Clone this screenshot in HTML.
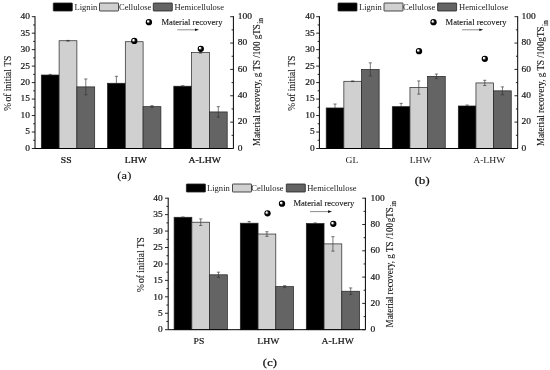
<!DOCTYPE html>
<html><head><meta charset="utf-8"><title>Figure</title>
<style>html,body{margin:0;padding:0;background:#fff;overflow:hidden}svg{display:block;filter:blur(0.35px)}</style></head>
<body><svg width="550" height="370" viewBox="0 0 550 370" font-family='"Liberation Serif", serif' fill="#111">
<defs><radialGradient id="sp" cx="0.5" cy="0.5" r="0.5" fx="0.3" fy="0.32"><stop offset="0" stop-color="#fff"/><stop offset="0.2" stop-color="#fff"/><stop offset="0.46" stop-color="#444"/><stop offset="0.62" stop-color="#000"/><stop offset="1" stop-color="#000"/></radialGradient></defs>
<style>.t{stroke:#111;stroke-width:0.18px}.g{fill:#1a1a1a}.h{fill:#111;stroke:#111;stroke-width:0.1px}.b{stroke:#111;stroke-width:0.24px}</style>
<rect width="550" height="370" fill="#fff"/>
<rect x="41.30" y="75.02" width="17.80" height="73.48" fill="#000" stroke="#222" stroke-width="0.7"/>
<path d="M50.20 74.36V75.02M48.60 74.36H51.80" stroke="#333" stroke-width="0.65" fill="none"/>
<rect x="59.10" y="40.75" width="17.80" height="107.75" fill="#d0d0d0" stroke="#222" stroke-width="0.7"/>
<path d="M68.00 40.42V41.08M66.40 40.42H69.60M66.40 41.08H69.60" stroke="#333" stroke-width="0.65" fill="none"/>
<rect x="76.90" y="86.88" width="17.80" height="61.62" fill="#646464" stroke="#222" stroke-width="0.7"/>
<path d="M85.80 78.98V94.79M84.20 78.98H87.40M84.20 94.79H87.40" stroke="#333" stroke-width="0.65" fill="none"/>
<rect x="107.50" y="83.26" width="17.80" height="65.24" fill="#000" stroke="#222" stroke-width="0.7"/>
<path d="M116.40 76.34V83.26M114.80 76.34H118.00" stroke="#333" stroke-width="0.65" fill="none"/>
<rect x="125.30" y="41.74" width="17.80" height="106.76" fill="#d0d0d0" stroke="#222" stroke-width="0.7"/>
<path d="M134.20 41.41V42.07M132.60 41.41H135.80M132.60 42.07H135.80" stroke="#333" stroke-width="0.65" fill="none"/>
<rect x="143.10" y="106.65" width="17.80" height="41.85" fill="#646464" stroke="#222" stroke-width="0.7"/>
<path d="M152.00 105.66V107.64M150.40 105.66H153.60M150.40 107.64H153.60" stroke="#333" stroke-width="0.65" fill="none"/>
<rect x="173.80" y="86.22" width="17.80" height="62.28" fill="#000" stroke="#222" stroke-width="0.7"/>
<path d="M182.70 85.73V86.22M181.10 85.73H184.30" stroke="#333" stroke-width="0.65" fill="none"/>
<rect x="191.60" y="52.62" width="17.80" height="95.88" fill="#d0d0d0" stroke="#222" stroke-width="0.7"/>
<path d="M200.50 52.12V53.11M198.90 52.12H202.10M198.90 53.11H202.10" stroke="#333" stroke-width="0.65" fill="none"/>
<rect x="209.40" y="111.93" width="17.80" height="36.57" fill="#646464" stroke="#222" stroke-width="0.7"/>
<path d="M218.30 106.65V117.20M216.70 106.65H219.90M216.70 117.20H219.90" stroke="#333" stroke-width="0.65" fill="none"/>
<path d="M35 16.2V148.5H233.4V16.2" stroke="#000" stroke-width="1.0" fill="none"/>
<text class="t" transform="translate(30.00 150.90) scale(1.075 1)" font-size="8.8" text-anchor="end">0</text>
<text class="t" transform="translate(30.00 134.43) scale(1.075 1)" font-size="8.8" text-anchor="end">5</text>
<text class="t" transform="translate(30.00 117.95) scale(1.075 1)" font-size="8.8" text-anchor="end">10</text>
<text class="t" transform="translate(30.00 101.47) scale(1.075 1)" font-size="8.8" text-anchor="end">15</text>
<text class="t" transform="translate(30.00 85.00) scale(1.075 1)" font-size="8.8" text-anchor="end">20</text>
<text class="t" transform="translate(30.00 68.52) scale(1.075 1)" font-size="8.8" text-anchor="end">25</text>
<text class="t" transform="translate(30.00 52.05) scale(1.075 1)" font-size="8.8" text-anchor="end">30</text>
<text class="t" transform="translate(30.00 35.57) scale(1.075 1)" font-size="8.8" text-anchor="end">35</text>
<text class="t" transform="translate(30.00 19.10) scale(1.075 1)" font-size="8.8" text-anchor="end">40</text>
<text class="t" transform="translate(237.80 150.80) scale(1.075 1)" font-size="8.8">0</text>
<text class="t" transform="translate(237.80 124.44) scale(1.075 1)" font-size="8.8">20</text>
<text class="t" transform="translate(237.80 98.08) scale(1.075 1)" font-size="8.8">40</text>
<text class="t" transform="translate(237.80 71.72) scale(1.075 1)" font-size="8.8">60</text>
<text class="t" transform="translate(237.80 45.36) scale(1.075 1)" font-size="8.8">80</text>
<text class="t" transform="translate(237.80 19.00) scale(1.075 1)" font-size="8.8">100</text>
<path d="M31.8 148.50H35M31.8 132.03H35M31.8 115.55H35M31.8 99.07H35M31.8 82.60H35M31.8 66.12H35M31.8 49.65H35M31.8 33.17H35M31.8 16.70H35M33.2 140.26H35M33.2 123.79H35M33.2 107.31H35M33.2 90.84H35M33.2 74.36H35M33.2 57.89H35M33.2 41.41H35M33.2 24.94H35M230.20000000000002 148.50H233.4M231.6 135.32H233.4M230.20000000000002 122.14H233.4M231.6 108.96H233.4M230.20000000000002 95.78H233.4M231.6 82.60H233.4M230.20000000000002 69.42H233.4M231.6 56.24H233.4M230.20000000000002 43.06H233.4M231.6 29.88H233.4M230.20000000000002 16.70H233.4" stroke="#111" stroke-width="0.9" fill="none"/>
<text class="b" transform="translate(66.20 162.80) scale(1.1 1)" font-size="8.8" text-anchor="middle">SS</text>
<text class="b" transform="translate(135.80 162.80) scale(1.1 1)" font-size="8.8" text-anchor="middle">LHW</text>
<text class="b" transform="translate(204.70 162.80) scale(1.1 1)" font-size="8.8" text-anchor="middle">A-LHW</text>
<text class="h" transform="translate(124.40 178.90) scale(1.17 1)" font-size="10.6" text-anchor="middle" letter-spacing="0.2">(a)</text>
<text class="h" transform="translate(10.60 83.20) rotate(-90) scale(0.935 1)" font-size="10.2" text-anchor="middle">%<tspan dx="-1.4"> </tspan>of initial TS</text>
<text class="h" transform="translate(259.80 82.10) rotate(-90) scale(0.892 1)" font-size="10.2" text-anchor="middle">Material recovery, g TS /100<tspan dx="0"> </tspan>gTS<tspan font-size="8.2" dy="3.6" dx="0.4">in</tspan></text>
<rect x="53.3" y="3" width="19" height="8" rx="0.4" fill="#000" stroke="#222" stroke-width="0.8"/>
<text class="g" transform="translate(74.50 10.20) scale(1.075 1)" font-size="7.95">Lignin</text>
<rect x="99.5" y="3" width="19" height="8" rx="0.4" fill="#d0d0d0" stroke="#222" stroke-width="0.8"/>
<text class="g" transform="translate(119.00 10.20) scale(1.075 1)" font-size="7.95">Cellulose</text>
<rect x="153.3" y="3" width="19" height="8" rx="0.4" fill="#646464" stroke="#222" stroke-width="0.8"/>
<text class="g" transform="translate(174.60 10.20) scale(1.075 1)" font-size="7.95">Hemicellulose</text>
<circle cx="148.9" cy="22.2" r="3.15" fill="url(#sp)"/>
<text class="h" transform="translate(161.50 24.60) scale(1.075 1)" font-size="7.95">Material recovery</text>
<path d="M177.3 29.8H196" stroke="#8c8c8c" stroke-width="1" fill="none"/><path d="M199 29.8L195 28.5V31.1Z" fill="#111"/>
<circle cx="134.3" cy="40.900000000000006" r="3.15" fill="url(#sp)"/>
<circle cx="200.8" cy="48.800000000000004" r="3.15" fill="url(#sp)"/>
<rect x="326.20" y="107.97" width="17.65" height="40.53" fill="#000" stroke="#222" stroke-width="0.7"/>
<path d="M335.02 104.02V107.97M333.42 104.02H336.62" stroke="#333" stroke-width="0.65" fill="none"/>
<rect x="343.85" y="81.28" width="17.65" height="67.22" fill="#d0d0d0" stroke="#222" stroke-width="0.7"/>
<path d="M352.67 80.95V81.61M351.07 80.95H354.27M351.07 81.61H354.27" stroke="#333" stroke-width="0.65" fill="none"/>
<rect x="361.50" y="69.42" width="17.65" height="79.08" fill="#646464" stroke="#222" stroke-width="0.7"/>
<path d="M370.32 62.83V76.01M368.72 62.83H371.93M368.72 76.01H371.93" stroke="#333" stroke-width="0.65" fill="none"/>
<rect x="392.30" y="106.65" width="17.65" height="41.85" fill="#000" stroke="#222" stroke-width="0.7"/>
<path d="M401.12 103.36V106.65M399.52 103.36H402.73" stroke="#333" stroke-width="0.65" fill="none"/>
<rect x="409.95" y="87.54" width="17.65" height="60.96" fill="#d0d0d0" stroke="#222" stroke-width="0.7"/>
<path d="M418.77 80.95V94.13M417.17 80.95H420.38M417.17 94.13H420.38" stroke="#333" stroke-width="0.65" fill="none"/>
<rect x="427.60" y="76.34" width="17.65" height="72.16" fill="#646464" stroke="#222" stroke-width="0.7"/>
<path d="M436.43 74.03V78.65M434.82 74.03H438.03M434.82 78.65H438.03" stroke="#333" stroke-width="0.65" fill="none"/>
<rect x="458.30" y="105.99" width="17.65" height="42.51" fill="#000" stroke="#222" stroke-width="0.7"/>
<path d="M467.12 105.01V105.99M465.52 105.01H468.73" stroke="#333" stroke-width="0.65" fill="none"/>
<rect x="475.95" y="82.93" width="17.65" height="65.57" fill="#d0d0d0" stroke="#222" stroke-width="0.7"/>
<path d="M484.77 80.29V85.57M483.17 80.29H486.38M483.17 85.57H486.38" stroke="#333" stroke-width="0.65" fill="none"/>
<rect x="493.60" y="90.84" width="17.65" height="57.66" fill="#646464" stroke="#222" stroke-width="0.7"/>
<path d="M502.43 86.88V94.79M500.82 86.88H504.03M500.82 94.79H504.03" stroke="#333" stroke-width="0.65" fill="none"/>
<path d="M319.4 16.2V148.5H517.7V16.2" stroke="#000" stroke-width="1.0" fill="none"/>
<text class="t" transform="translate(314.80 150.90) scale(1.075 1)" font-size="8.8" text-anchor="end">0</text>
<text class="t" transform="translate(314.80 134.43) scale(1.075 1)" font-size="8.8" text-anchor="end">5</text>
<text class="t" transform="translate(314.80 117.95) scale(1.075 1)" font-size="8.8" text-anchor="end">10</text>
<text class="t" transform="translate(314.80 101.47) scale(1.075 1)" font-size="8.8" text-anchor="end">15</text>
<text class="t" transform="translate(314.80 85.00) scale(1.075 1)" font-size="8.8" text-anchor="end">20</text>
<text class="t" transform="translate(314.80 68.52) scale(1.075 1)" font-size="8.8" text-anchor="end">25</text>
<text class="t" transform="translate(314.80 52.05) scale(1.075 1)" font-size="8.8" text-anchor="end">30</text>
<text class="t" transform="translate(314.80 35.57) scale(1.075 1)" font-size="8.8" text-anchor="end">35</text>
<text class="t" transform="translate(314.80 19.10) scale(1.075 1)" font-size="8.8" text-anchor="end">40</text>
<text class="t" transform="translate(521.60 150.80) scale(1.075 1)" font-size="8.8">0</text>
<text class="t" transform="translate(521.60 124.44) scale(1.075 1)" font-size="8.8">20</text>
<text class="t" transform="translate(521.60 98.08) scale(1.075 1)" font-size="8.8">40</text>
<text class="t" transform="translate(521.60 71.72) scale(1.075 1)" font-size="8.8">60</text>
<text class="t" transform="translate(521.60 45.36) scale(1.075 1)" font-size="8.8">80</text>
<text class="t" transform="translate(521.60 19.00) scale(1.075 1)" font-size="8.8">100</text>
<path d="M316.2 148.50H319.4M316.2 132.03H319.4M316.2 115.55H319.4M316.2 99.07H319.4M316.2 82.60H319.4M316.2 66.12H319.4M316.2 49.65H319.4M316.2 33.17H319.4M316.2 16.70H319.4M317.59999999999997 140.26H319.4M317.59999999999997 123.79H319.4M317.59999999999997 107.31H319.4M317.59999999999997 90.84H319.4M317.59999999999997 74.36H319.4M317.59999999999997 57.89H319.4M317.59999999999997 41.41H319.4M317.59999999999997 24.94H319.4M514.5 148.50H517.7M515.9000000000001 135.32H517.7M514.5 122.14H517.7M515.9000000000001 108.96H517.7M514.5 95.78H517.7M515.9000000000001 82.60H517.7M514.5 69.42H517.7M515.9000000000001 56.24H517.7M514.5 43.06H517.7M515.9000000000001 29.88H517.7M514.5 16.70H517.7" stroke="#111" stroke-width="0.9" fill="none"/>
<text class="g" transform="translate(351.90 163.00) scale(1.045 1)" font-size="9.2" text-anchor="middle">GL</text>
<text class="g" transform="translate(420.60 163.00) scale(1.045 1)" font-size="9.2" text-anchor="middle">LHW</text>
<text class="g" transform="translate(489.20 163.00) scale(1.045 1)" font-size="9.2" text-anchor="middle">A-LHW</text>
<text class="b" transform="translate(422.30 183.50) scale(1.17 1)" font-size="10.6" text-anchor="middle" letter-spacing="0.2">(b)</text>
<text class="h" transform="translate(295.30 83.20) rotate(-90) scale(0.935 1)" font-size="10.2" text-anchor="middle">%<tspan dx="-1.4"> </tspan>of initial TS</text>
<text class="h" transform="translate(544.30 83.26) rotate(-90) scale(0.892 1)" font-size="10.2" text-anchor="middle">Material recovery, g TS /100<tspan dx="-2.6"> </tspan>gTS<tspan font-size="8.2" dy="3.6" dx="0.4">in</tspan></text>
<rect x="338" y="3" width="19" height="8" rx="0.4" fill="#000" stroke="#222" stroke-width="0.8"/>
<text class="g" transform="translate(359.00 10.20) scale(1.075 1)" font-size="7.95">Lignin</text>
<rect x="384" y="3" width="19" height="8" rx="0.4" fill="#d0d0d0" stroke="#222" stroke-width="0.8"/>
<text class="g" transform="translate(403.00 10.20) scale(1.075 1)" font-size="7.95">Cellulose</text>
<rect x="437.6" y="3" width="19" height="8" rx="0.4" fill="#646464" stroke="#222" stroke-width="0.8"/>
<text class="g" transform="translate(459.00 10.20) scale(1.075 1)" font-size="7.95">Hemicellulose</text>
<circle cx="433.5" cy="22.2" r="3.15" fill="url(#sp)"/>
<text class="h" transform="translate(445.60 24.60) scale(1.075 1)" font-size="7.95">Material recovery</text>
<path d="M462 29.8H480.3" stroke="#8c8c8c" stroke-width="1" fill="none"/><path d="M483.3 29.8L479.3 28.5V31.1Z" fill="#111"/>
<circle cx="419.0" cy="51.2" r="3.15" fill="url(#sp)"/>
<circle cx="484.8" cy="58.800000000000004" r="3.15" fill="url(#sp)"/>
<rect x="174.10" y="217.27" width="17.75" height="112.43" fill="#000" stroke="#222" stroke-width="0.7"/>
<path d="M182.97 216.94V217.27M181.38 216.94H184.57" stroke="#333" stroke-width="0.65" fill="none"/>
<rect x="191.85" y="222.20" width="17.75" height="107.50" fill="#d0d0d0" stroke="#222" stroke-width="0.7"/>
<path d="M200.72 218.91V225.49M199.12 218.91H202.32M199.12 225.49H202.32" stroke="#333" stroke-width="0.65" fill="none"/>
<rect x="209.60" y="274.80" width="17.75" height="54.90" fill="#646464" stroke="#222" stroke-width="0.7"/>
<path d="M218.47 272.17V277.43M216.88 272.17H220.07M216.88 277.43H220.07" stroke="#333" stroke-width="0.65" fill="none"/>
<rect x="240.30" y="223.19" width="17.75" height="106.51" fill="#000" stroke="#222" stroke-width="0.7"/>
<path d="M249.18 221.54V223.19M247.58 221.54H250.78" stroke="#333" stroke-width="0.65" fill="none"/>
<rect x="258.05" y="234.03" width="17.75" height="95.67" fill="#d0d0d0" stroke="#222" stroke-width="0.7"/>
<path d="M266.93 231.73V236.33M265.32 231.73H268.53M265.32 236.33H268.53" stroke="#333" stroke-width="0.65" fill="none"/>
<rect x="275.80" y="286.63" width="17.75" height="43.07" fill="#646464" stroke="#222" stroke-width="0.7"/>
<path d="M284.68 285.65V287.62M283.07 285.65H286.28M283.07 287.62H286.28" stroke="#333" stroke-width="0.65" fill="none"/>
<rect x="306.30" y="223.51" width="17.75" height="106.19" fill="#000" stroke="#222" stroke-width="0.7"/>
<path d="M315.18 222.86V223.51M313.57 222.86H316.78" stroke="#333" stroke-width="0.65" fill="none"/>
<rect x="324.05" y="243.90" width="17.75" height="85.80" fill="#d0d0d0" stroke="#222" stroke-width="0.7"/>
<path d="M332.93 236.66V251.13M331.32 236.66H334.53M331.32 251.13H334.53" stroke="#333" stroke-width="0.65" fill="none"/>
<rect x="341.80" y="291.24" width="17.75" height="38.46" fill="#646464" stroke="#222" stroke-width="0.7"/>
<path d="M350.68 287.95V294.52M349.07 287.95H352.28M349.07 294.52H352.28" stroke="#333" stroke-width="0.65" fill="none"/>
<path d="M168.2 197.7V329.7H365.4V197.7" stroke="#000" stroke-width="1.0" fill="none"/>
<text class="t" transform="translate(162.80 332.45) scale(1.075 1)" font-size="8.8" text-anchor="end">0</text>
<text class="t" transform="translate(162.80 316.01) scale(1.075 1)" font-size="8.8" text-anchor="end">5</text>
<text class="t" transform="translate(162.80 299.57) scale(1.075 1)" font-size="8.8" text-anchor="end">10</text>
<text class="t" transform="translate(162.80 283.14) scale(1.075 1)" font-size="8.8" text-anchor="end">15</text>
<text class="t" transform="translate(162.80 266.70) scale(1.075 1)" font-size="8.8" text-anchor="end">20</text>
<text class="t" transform="translate(162.80 250.26) scale(1.075 1)" font-size="8.8" text-anchor="end">25</text>
<text class="t" transform="translate(162.80 233.82) scale(1.075 1)" font-size="8.8" text-anchor="end">30</text>
<text class="t" transform="translate(162.80 217.39) scale(1.075 1)" font-size="8.8" text-anchor="end">35</text>
<text class="t" transform="translate(162.80 200.95) scale(1.075 1)" font-size="8.8" text-anchor="end">40</text>
<text class="t" transform="translate(370.50 332.35) scale(1.075 1)" font-size="8.8">0</text>
<text class="t" transform="translate(370.50 306.05) scale(1.075 1)" font-size="8.8">20</text>
<text class="t" transform="translate(370.50 279.75) scale(1.075 1)" font-size="8.8">40</text>
<text class="t" transform="translate(370.50 253.45) scale(1.075 1)" font-size="8.8">60</text>
<text class="t" transform="translate(370.50 227.15) scale(1.075 1)" font-size="8.8">80</text>
<text class="t" transform="translate(370.50 200.85) scale(1.075 1)" font-size="8.8">100</text>
<path d="M165.0 329.70H168.2M165.0 313.26H168.2M165.0 296.82H168.2M165.0 280.39H168.2M165.0 263.95H168.2M165.0 247.51H168.2M165.0 231.07H168.2M165.0 214.64H168.2M165.0 198.20H168.2M166.39999999999998 321.48H168.2M166.39999999999998 305.04H168.2M166.39999999999998 288.61H168.2M166.39999999999998 272.17H168.2M166.39999999999998 255.73H168.2M166.39999999999998 239.29H168.2M166.39999999999998 222.86H168.2M166.39999999999998 206.42H168.2M362.2 329.70H365.4M363.59999999999997 316.55H365.4M362.2 303.40H365.4M363.59999999999997 290.25H365.4M362.2 277.10H365.4M363.59999999999997 263.95H365.4M362.2 250.80H365.4M363.59999999999997 237.65H365.4M362.2 224.50H365.4M363.59999999999997 211.35H365.4M362.2 198.20H365.4" stroke="#111" stroke-width="0.9" fill="none"/>
<text class="t" transform="translate(199.00 343.90) scale(1.1 1)" font-size="8.8" text-anchor="middle">PS</text>
<text class="t" transform="translate(268.30 343.90) scale(1.1 1)" font-size="8.8" text-anchor="middle">LHW</text>
<text class="t" transform="translate(337.70 343.90) scale(1.1 1)" font-size="8.8" text-anchor="middle">A-LHW</text>
<text class="b" transform="translate(270.00 365.70) scale(1.17 1)" font-size="10.6" text-anchor="middle" letter-spacing="0.2">(c)</text>
<text class="h" transform="translate(143.60 264.55) rotate(-90) scale(0.935 1)" font-size="10.2" text-anchor="middle">%<tspan dx="-1.4"> </tspan>of initial TS</text>
<text class="h" transform="translate(392.60 264.30) rotate(-90) scale(0.892 1)" font-size="10.2" text-anchor="middle">Material recovery, g TS /100<tspan dx="-1.9"> </tspan>gTS<tspan font-size="8.2" dy="3.6" dx="0.4">in</tspan></text>
<rect x="186.4" y="184" width="19" height="8" rx="0.4" fill="#000" stroke="#222" stroke-width="0.8"/>
<text class="g" transform="translate(207.00 191.20) scale(1.075 1)" font-size="7.95">Lignin</text>
<rect x="232.5" y="184" width="19" height="8" rx="0.4" fill="#d0d0d0" stroke="#222" stroke-width="0.8"/>
<text class="g" transform="translate(251.30 191.20) scale(1.075 1)" font-size="7.95">Cellulose</text>
<rect x="286.3" y="184" width="19" height="8" rx="0.4" fill="#646464" stroke="#222" stroke-width="0.8"/>
<text class="g" transform="translate(307.20 191.20) scale(1.075 1)" font-size="7.95">Hemicellulose</text>
<circle cx="282.0" cy="203.7" r="3.15" fill="url(#sp)"/>
<text class="h" transform="translate(293.40 206.10) scale(1.075 1)" font-size="7.95">Material recovery</text>
<path d="M310 211.6H329" stroke="#8c8c8c" stroke-width="1" fill="none"/><path d="M332 211.6L328 210.29999999999998V212.9Z" fill="#111"/>
<circle cx="267.5" cy="213.29999999999998" r="3.15" fill="url(#sp)"/>
<circle cx="333.3" cy="223.79999999999998" r="3.15" fill="url(#sp)"/>
</svg></body></html>
